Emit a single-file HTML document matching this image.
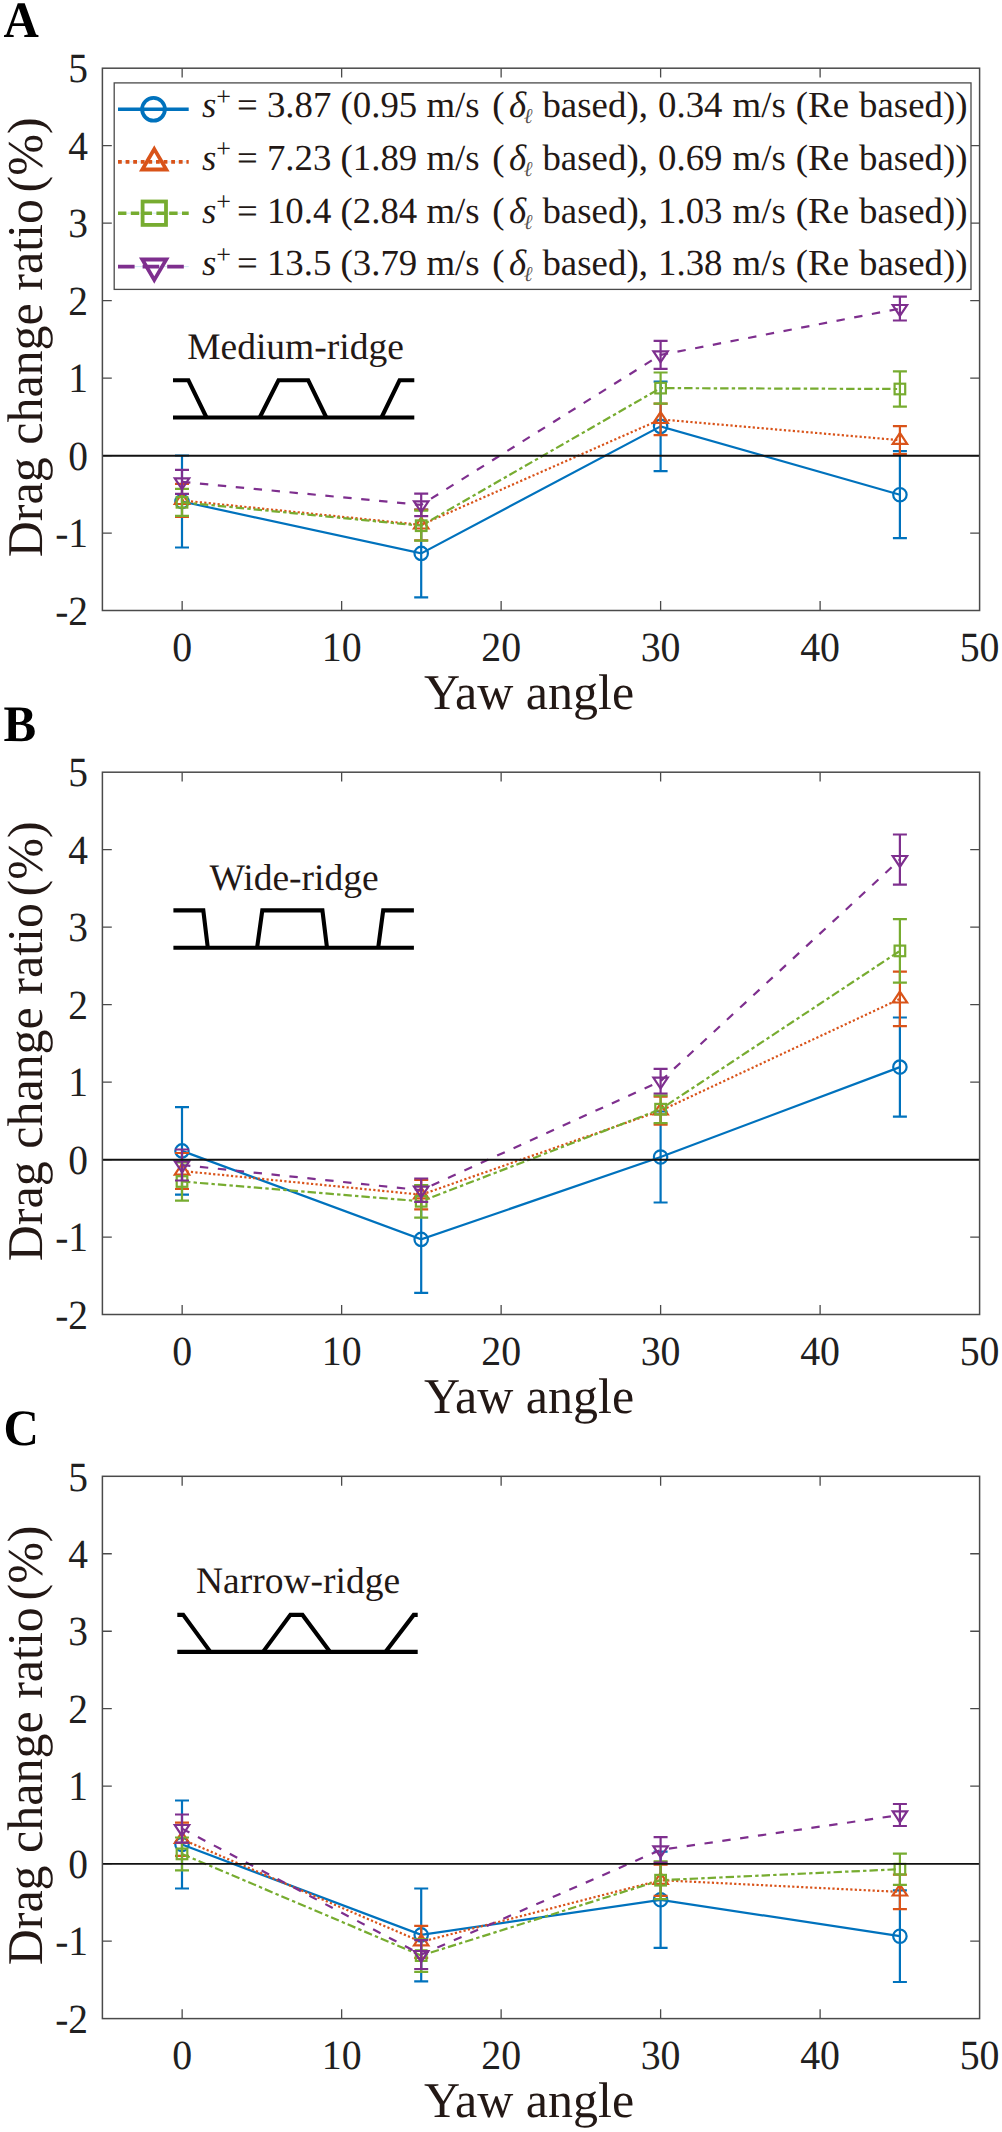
<!DOCTYPE html><html><head><meta charset="utf-8"><style>html,body{margin:0;padding:0;background:#fff;overflow:hidden;}svg{display:block;}text{font-family:"Liberation Serif",serif;text-rendering:geometricPrecision;}</style></head><body>
<svg width="1002" height="2132" viewBox="0 0 1002 2132">
<rect width="1002" height="2132" fill="#fff"/>
<text transform="translate(3.5,36.6) scale(0.96,1)" font-size="51" font-weight="bold" fill="#000">A</text>
<path d="M182.15,610.50v-9.4M182.15,68.20v9.4M341.64,610.50v-9.4M341.64,68.20v9.4M501.13,610.50v-9.4M501.13,68.20v9.4M660.62,610.50v-9.4M660.62,68.20v9.4M820.11,610.50v-9.4M820.11,68.20v9.4M102.40,145.67h9.4M979.60,145.67h-9.4M102.40,223.14h9.4M979.60,223.14h-9.4M102.40,300.61h9.4M979.60,300.61h-9.4M102.40,378.09h9.4M979.60,378.09h-9.4M102.40,455.56h9.4M979.60,455.56h-9.4M102.40,533.03h9.4M979.60,533.03h-9.4" stroke="#4a4a4a" stroke-width="1.3" fill="none"/>
<text transform="translate(88,82.40) scale(0.95,1)" font-size="41.5" text-anchor="end" fill="#202020">5</text>
<text transform="translate(88,159.87) scale(0.95,1)" font-size="41.5" text-anchor="end" fill="#202020">4</text>
<text transform="translate(88,237.34) scale(0.95,1)" font-size="41.5" text-anchor="end" fill="#202020">3</text>
<text transform="translate(88,314.81) scale(0.95,1)" font-size="41.5" text-anchor="end" fill="#202020">2</text>
<text transform="translate(88,392.29) scale(0.95,1)" font-size="41.5" text-anchor="end" fill="#202020">1</text>
<text transform="translate(88,469.76) scale(0.95,1)" font-size="41.5" text-anchor="end" fill="#202020">0</text>
<text transform="translate(88,547.23) scale(0.95,1)" font-size="41.5" text-anchor="end" fill="#202020">-1</text>
<text transform="translate(88,624.70) scale(0.95,1)" font-size="41.5" text-anchor="end" fill="#202020">-2</text>
<text transform="translate(182.15,661.10) scale(0.96,1)" font-size="41.5" text-anchor="middle" fill="#202020">0</text>
<text transform="translate(341.64,661.10) scale(0.96,1)" font-size="41.5" text-anchor="middle" fill="#202020">10</text>
<text transform="translate(501.13,661.10) scale(0.96,1)" font-size="41.5" text-anchor="middle" fill="#202020">20</text>
<text transform="translate(660.62,661.10) scale(0.96,1)" font-size="41.5" text-anchor="middle" fill="#202020">30</text>
<text transform="translate(820.11,661.10) scale(0.96,1)" font-size="41.5" text-anchor="middle" fill="#202020">40</text>
<text transform="translate(979.60,661.10) scale(0.96,1)" font-size="41.5" text-anchor="middle" fill="#202020">50</text>
<text x="529" y="709.00" font-size="50" text-anchor="middle" fill="#231815">Yaw angle</text>
<text transform="translate(42,337.35) rotate(-90)" font-size="50" text-anchor="middle" fill="#231815">Drag change ratio<tspan dx="-5.8"> (%)</tspan></text>
<text x="295.5" y="359.4" font-size="37.5" text-anchor="middle" fill="#231815">Medium-ridge</text>
<path d="M173,380.3L188.4,380.3L206.5,417.5" stroke="#000" stroke-width="4.1" fill="none" stroke-linejoin="miter" stroke-linecap="butt"/>
<path d="M259.7,417.5L278.5,380.3L308.2,380.3L326.3,417.5" stroke="#000" stroke-width="4.1" fill="none" stroke-linejoin="miter" stroke-linecap="butt"/>
<path d="M381.5,417.5L399.6,380.3L414.3,380.3" stroke="#000" stroke-width="4.1" fill="none" stroke-linejoin="miter" stroke-linecap="butt"/>
<path d="M173,417.5L414.3,417.5" stroke="#000" stroke-width="4.1" fill="none" stroke-linejoin="miter" stroke-linecap="butt"/>
<path d="M182.00,501.50L421.20,553.40L660.60,426.40L899.90,494.70" stroke="#0072BD" stroke-width="2.2" fill="none"/>
<path d="M182.00,455.50V547.50M175.00,455.50h14M175.00,547.50h14M421.20,509.50V597.30M414.20,509.50h14M414.20,597.30h14M660.60,381.70V471.10M653.60,381.70h14M653.60,471.10h14M899.90,451.20V538.20M892.90,451.20h14M892.90,538.20h14" stroke="#0072BD" stroke-width="2.2" fill="none"/>
<circle cx="182.00" cy="501.50" r="6.70" fill="none" stroke="#0072BD" stroke-width="2.2"/>
<circle cx="421.20" cy="553.40" r="6.70" fill="none" stroke="#0072BD" stroke-width="2.2"/>
<circle cx="660.60" cy="426.40" r="6.70" fill="none" stroke="#0072BD" stroke-width="2.2"/>
<circle cx="899.90" cy="494.70" r="6.70" fill="none" stroke="#0072BD" stroke-width="2.2"/>
<path d="M182.00,500.40L421.20,524.90L660.60,419.40L899.90,440.20" stroke="#D95319" stroke-width="2.2" fill="none" stroke-dasharray="2.2 2.27"/>
<path d="M182.00,483.80V517.00M175.00,483.80h14M175.00,517.00h14M421.20,509.50V540.30M414.20,509.50h14M414.20,540.30h14M660.60,403.70V435.10M653.60,403.70h14M653.60,435.10h14M899.90,426.20V454.20M892.90,426.20h14M892.90,454.20h14" stroke="#D95319" stroke-width="2.2" fill="none"/>
<path d="M182.00,493.10L189.20,504.00L174.80,504.00Z" fill="none" stroke="#D95319" stroke-width="2.2" stroke-linejoin="miter"/>
<path d="M421.20,517.60L428.40,528.50L414.00,528.50Z" fill="none" stroke="#D95319" stroke-width="2.2" stroke-linejoin="miter"/>
<path d="M660.60,412.10L667.80,423.00L653.40,423.00Z" fill="none" stroke="#D95319" stroke-width="2.2" stroke-linejoin="miter"/>
<path d="M899.90,432.90L907.10,443.80L892.70,443.80Z" fill="none" stroke="#D95319" stroke-width="2.2" stroke-linejoin="miter"/>
<path d="M182.00,502.30L421.20,525.70L660.60,388.10L899.90,389.00" stroke="#77AC30" stroke-width="2.2" fill="none" stroke-dasharray="8.4 3.2 3.4 3"/>
<path d="M182.00,488.80V515.80M175.00,488.80h14M175.00,515.80h14M421.20,510.70V540.70M414.20,510.70h14M414.20,540.70h14M660.60,372.50V403.70M653.60,372.50h14M653.60,403.70h14M899.90,371.40V406.60M892.90,371.40h14M892.90,406.60h14" stroke="#77AC30" stroke-width="2.2" fill="none"/>
<rect x="176.70" y="497.00" width="10.60" height="10.60" fill="none" stroke="#77AC30" stroke-width="2.2"/>
<rect x="415.90" y="520.40" width="10.60" height="10.60" fill="none" stroke="#77AC30" stroke-width="2.2"/>
<rect x="655.30" y="382.80" width="10.60" height="10.60" fill="none" stroke="#77AC30" stroke-width="2.2"/>
<rect x="894.60" y="383.70" width="10.60" height="10.60" fill="none" stroke="#77AC30" stroke-width="2.2"/>
<path d="M182.00,481.90L421.20,504.90L660.60,354.90L899.90,308.60" stroke="#7E2F8E" stroke-width="2.2" fill="none" stroke-dasharray="8.4 9.6"/>
<path d="M182.00,469.90V493.90M175.00,469.90h14M175.00,493.90h14M421.20,493.70V516.10M414.20,493.70h14M414.20,516.10h14M660.60,340.90V368.90M653.60,340.90h14M653.60,368.90h14M899.90,296.70V320.50M892.90,296.70h14M892.90,320.50h14" stroke="#7E2F8E" stroke-width="2.2" fill="none"/>
<path d="M182.00,489.20L189.20,478.30L174.80,478.30Z" fill="none" stroke="#7E2F8E" stroke-width="2.2" stroke-linejoin="miter"/>
<path d="M421.20,512.20L428.40,501.30L414.00,501.30Z" fill="none" stroke="#7E2F8E" stroke-width="2.2" stroke-linejoin="miter"/>
<path d="M660.60,362.20L667.80,351.30L653.40,351.30Z" fill="none" stroke="#7E2F8E" stroke-width="2.2" stroke-linejoin="miter"/>
<path d="M899.90,315.90L907.10,305.00L892.70,305.00Z" fill="none" stroke="#7E2F8E" stroke-width="2.2" stroke-linejoin="miter"/>
<path d="M102.40,455.76H979.60" stroke="#111" stroke-width="1.9"/>
<rect x="102.4" y="68.2" width="877.20" height="542.3" fill="none" stroke="#4a4a4a" stroke-width="1.5"/>
<text transform="translate(3.5,740.6) scale(0.96,1)" font-size="51" font-weight="bold" fill="#000">B</text>
<path d="M182.15,1314.50v-9.4M182.15,772.20v9.4M341.64,1314.50v-9.4M341.64,772.20v9.4M501.13,1314.50v-9.4M501.13,772.20v9.4M660.62,1314.50v-9.4M660.62,772.20v9.4M820.11,1314.50v-9.4M820.11,772.20v9.4M102.40,849.67h9.4M979.60,849.67h-9.4M102.40,927.14h9.4M979.60,927.14h-9.4M102.40,1004.61h9.4M979.60,1004.61h-9.4M102.40,1082.09h9.4M979.60,1082.09h-9.4M102.40,1159.56h9.4M979.60,1159.56h-9.4M102.40,1237.03h9.4M979.60,1237.03h-9.4" stroke="#4a4a4a" stroke-width="1.3" fill="none"/>
<text transform="translate(88,786.40) scale(0.95,1)" font-size="41.5" text-anchor="end" fill="#202020">5</text>
<text transform="translate(88,863.87) scale(0.95,1)" font-size="41.5" text-anchor="end" fill="#202020">4</text>
<text transform="translate(88,941.34) scale(0.95,1)" font-size="41.5" text-anchor="end" fill="#202020">3</text>
<text transform="translate(88,1018.81) scale(0.95,1)" font-size="41.5" text-anchor="end" fill="#202020">2</text>
<text transform="translate(88,1096.29) scale(0.95,1)" font-size="41.5" text-anchor="end" fill="#202020">1</text>
<text transform="translate(88,1173.76) scale(0.95,1)" font-size="41.5" text-anchor="end" fill="#202020">0</text>
<text transform="translate(88,1251.23) scale(0.95,1)" font-size="41.5" text-anchor="end" fill="#202020">-1</text>
<text transform="translate(88,1328.70) scale(0.95,1)" font-size="41.5" text-anchor="end" fill="#202020">-2</text>
<text transform="translate(182.15,1365.10) scale(0.96,1)" font-size="41.5" text-anchor="middle" fill="#202020">0</text>
<text transform="translate(341.64,1365.10) scale(0.96,1)" font-size="41.5" text-anchor="middle" fill="#202020">10</text>
<text transform="translate(501.13,1365.10) scale(0.96,1)" font-size="41.5" text-anchor="middle" fill="#202020">20</text>
<text transform="translate(660.62,1365.10) scale(0.96,1)" font-size="41.5" text-anchor="middle" fill="#202020">30</text>
<text transform="translate(820.11,1365.10) scale(0.96,1)" font-size="41.5" text-anchor="middle" fill="#202020">40</text>
<text transform="translate(979.60,1365.10) scale(0.96,1)" font-size="41.5" text-anchor="middle" fill="#202020">50</text>
<text x="529" y="1413.00" font-size="50" text-anchor="middle" fill="#231815">Yaw angle</text>
<text transform="translate(42,1041.35) rotate(-90)" font-size="50" text-anchor="middle" fill="#231815">Drag change ratio<tspan dx="-5.8"> (%)</tspan></text>
<text x="294" y="889.9" font-size="37.5" text-anchor="middle" fill="#231815">Wide-ridge</text>
<path d="M173.4,910.4L203.3,910.4L207.8,947.8" stroke="#000" stroke-width="4.1" fill="none" stroke-linejoin="miter" stroke-linecap="butt"/>
<path d="M257.1,947.8L262.3,910.4L322.4,910.4L327,947.8" stroke="#000" stroke-width="4.1" fill="none" stroke-linejoin="miter" stroke-linecap="butt"/>
<path d="M378.2,947.8L383.2,910.4L413.9,910.4" stroke="#000" stroke-width="4.1" fill="none" stroke-linejoin="miter" stroke-linecap="butt"/>
<path d="M173.4,947.8L413.9,947.8" stroke="#000" stroke-width="4.1" fill="none" stroke-linejoin="miter" stroke-linecap="butt"/>
<path d="M182.00,1150.90L421.20,1239.40L660.60,1157.00L899.90,1067.10" stroke="#0072BD" stroke-width="2.2" fill="none"/>
<path d="M182.00,1107.20V1194.60M175.00,1107.20h14M175.00,1194.60h14M421.20,1185.90V1292.90M414.20,1185.90h14M414.20,1292.90h14M660.60,1111.50V1202.50M653.60,1111.50h14M653.60,1202.50h14M899.90,1017.50V1116.70M892.90,1017.50h14M892.90,1116.70h14" stroke="#0072BD" stroke-width="2.2" fill="none"/>
<circle cx="182.00" cy="1150.90" r="6.70" fill="none" stroke="#0072BD" stroke-width="2.2"/>
<circle cx="421.20" cy="1239.40" r="6.70" fill="none" stroke="#0072BD" stroke-width="2.2"/>
<circle cx="660.60" cy="1157.00" r="6.70" fill="none" stroke="#0072BD" stroke-width="2.2"/>
<circle cx="899.90" cy="1067.10" r="6.70" fill="none" stroke="#0072BD" stroke-width="2.2"/>
<path d="M182.00,1171.00L421.20,1194.70L660.60,1110.70L899.90,998.90" stroke="#D95319" stroke-width="2.2" fill="none" stroke-dasharray="2.2 2.27"/>
<path d="M182.00,1153.00V1189.00M175.00,1153.00h14M175.00,1189.00h14M421.20,1180.00V1209.40M414.20,1180.00h14M414.20,1209.40h14M660.60,1096.70V1124.70M653.60,1096.70h14M653.60,1124.70h14M899.90,971.60V1026.20M892.90,971.60h14M892.90,1026.20h14" stroke="#D95319" stroke-width="2.2" fill="none"/>
<path d="M182.00,1163.70L189.20,1174.60L174.80,1174.60Z" fill="none" stroke="#D95319" stroke-width="2.2" stroke-linejoin="miter"/>
<path d="M421.20,1187.40L428.40,1198.30L414.00,1198.30Z" fill="none" stroke="#D95319" stroke-width="2.2" stroke-linejoin="miter"/>
<path d="M660.60,1103.40L667.80,1114.30L653.40,1114.30Z" fill="none" stroke="#D95319" stroke-width="2.2" stroke-linejoin="miter"/>
<path d="M899.90,991.60L907.10,1002.50L892.70,1002.50Z" fill="none" stroke="#D95319" stroke-width="2.2" stroke-linejoin="miter"/>
<path d="M182.00,1181.50L421.20,1201.30L660.60,1109.20L899.90,950.90" stroke="#77AC30" stroke-width="2.2" fill="none" stroke-dasharray="8.4 3.2 3.4 3"/>
<path d="M182.00,1162.30V1200.70M175.00,1162.30h14M175.00,1200.70h14M421.20,1185.00V1217.60M414.20,1185.00h14M414.20,1217.60h14M660.60,1095.30V1123.10M653.60,1095.30h14M653.60,1123.10h14M899.90,919.20V982.60M892.90,919.20h14M892.90,982.60h14" stroke="#77AC30" stroke-width="2.2" fill="none"/>
<rect x="176.70" y="1176.20" width="10.60" height="10.60" fill="none" stroke="#77AC30" stroke-width="2.2"/>
<rect x="415.90" y="1196.00" width="10.60" height="10.60" fill="none" stroke="#77AC30" stroke-width="2.2"/>
<rect x="655.30" y="1103.90" width="10.60" height="10.60" fill="none" stroke="#77AC30" stroke-width="2.2"/>
<rect x="894.60" y="945.60" width="10.60" height="10.60" fill="none" stroke="#77AC30" stroke-width="2.2"/>
<path d="M182.00,1165.00L421.20,1190.20L660.60,1081.20L899.90,859.60" stroke="#7E2F8E" stroke-width="2.2" fill="none" stroke-dasharray="8.4 9.6"/>
<path d="M182.00,1149.50V1180.50M175.00,1149.50h14M175.00,1180.50h14M421.20,1178.50V1201.90M414.20,1178.50h14M414.20,1201.90h14M660.60,1068.90V1093.50M653.60,1068.90h14M653.60,1093.50h14M899.90,834.50V884.70M892.90,834.50h14M892.90,884.70h14" stroke="#7E2F8E" stroke-width="2.2" fill="none"/>
<path d="M182.00,1172.30L189.20,1161.40L174.80,1161.40Z" fill="none" stroke="#7E2F8E" stroke-width="2.2" stroke-linejoin="miter"/>
<path d="M421.20,1197.50L428.40,1186.60L414.00,1186.60Z" fill="none" stroke="#7E2F8E" stroke-width="2.2" stroke-linejoin="miter"/>
<path d="M660.60,1088.50L667.80,1077.60L653.40,1077.60Z" fill="none" stroke="#7E2F8E" stroke-width="2.2" stroke-linejoin="miter"/>
<path d="M899.90,866.90L907.10,856.00L892.70,856.00Z" fill="none" stroke="#7E2F8E" stroke-width="2.2" stroke-linejoin="miter"/>
<path d="M102.40,1159.76H979.60" stroke="#111" stroke-width="1.9"/>
<rect x="102.4" y="772.2" width="877.20" height="542.3" fill="none" stroke="#4a4a4a" stroke-width="1.5"/>
<text transform="translate(3.5,1444.6) scale(0.96,1)" font-size="51" font-weight="bold" fill="#000">C</text>
<path d="M182.15,2018.60v-9.4M182.15,1476.30v9.4M341.64,2018.60v-9.4M341.64,1476.30v9.4M501.13,2018.60v-9.4M501.13,1476.30v9.4M660.62,2018.60v-9.4M660.62,1476.30v9.4M820.11,2018.60v-9.4M820.11,1476.30v9.4M102.40,1553.77h9.4M979.60,1553.77h-9.4M102.40,1631.24h9.4M979.60,1631.24h-9.4M102.40,1708.71h9.4M979.60,1708.71h-9.4M102.40,1786.19h9.4M979.60,1786.19h-9.4M102.40,1863.66h9.4M979.60,1863.66h-9.4M102.40,1941.13h9.4M979.60,1941.13h-9.4" stroke="#4a4a4a" stroke-width="1.3" fill="none"/>
<text transform="translate(88,1490.50) scale(0.95,1)" font-size="41.5" text-anchor="end" fill="#202020">5</text>
<text transform="translate(88,1567.97) scale(0.95,1)" font-size="41.5" text-anchor="end" fill="#202020">4</text>
<text transform="translate(88,1645.44) scale(0.95,1)" font-size="41.5" text-anchor="end" fill="#202020">3</text>
<text transform="translate(88,1722.91) scale(0.95,1)" font-size="41.5" text-anchor="end" fill="#202020">2</text>
<text transform="translate(88,1800.39) scale(0.95,1)" font-size="41.5" text-anchor="end" fill="#202020">1</text>
<text transform="translate(88,1877.86) scale(0.95,1)" font-size="41.5" text-anchor="end" fill="#202020">0</text>
<text transform="translate(88,1955.33) scale(0.95,1)" font-size="41.5" text-anchor="end" fill="#202020">-1</text>
<text transform="translate(88,2032.80) scale(0.95,1)" font-size="41.5" text-anchor="end" fill="#202020">-2</text>
<text transform="translate(182.15,2069.20) scale(0.96,1)" font-size="41.5" text-anchor="middle" fill="#202020">0</text>
<text transform="translate(341.64,2069.20) scale(0.96,1)" font-size="41.5" text-anchor="middle" fill="#202020">10</text>
<text transform="translate(501.13,2069.20) scale(0.96,1)" font-size="41.5" text-anchor="middle" fill="#202020">20</text>
<text transform="translate(660.62,2069.20) scale(0.96,1)" font-size="41.5" text-anchor="middle" fill="#202020">30</text>
<text transform="translate(820.11,2069.20) scale(0.96,1)" font-size="41.5" text-anchor="middle" fill="#202020">40</text>
<text transform="translate(979.60,2069.20) scale(0.96,1)" font-size="41.5" text-anchor="middle" fill="#202020">50</text>
<text x="529" y="2117.10" font-size="50" text-anchor="middle" fill="#231815">Yaw angle</text>
<text transform="translate(42,1745.45) rotate(-90)" font-size="50" text-anchor="middle" fill="#231815">Drag change ratio<tspan dx="-5.8"> (%)</tspan></text>
<text x="298" y="1592.7" font-size="37.5" text-anchor="middle" fill="#231815">Narrow-ridge</text>
<path d="M177.3,1614.9L183.2,1614.9L210.4,1651.9" stroke="#000" stroke-width="4.1" fill="none" stroke-linejoin="miter" stroke-linecap="butt"/>
<path d="M263,1651.9L290.4,1614.9L302.5,1614.9L330.1,1651.9" stroke="#000" stroke-width="4.1" fill="none" stroke-linejoin="miter" stroke-linecap="butt"/>
<path d="M385.4,1651.9L413.7,1614.9L417.7,1614.9" stroke="#000" stroke-width="4.1" fill="none" stroke-linejoin="miter" stroke-linecap="butt"/>
<path d="M177.3,1651.9L417.7,1651.9" stroke="#000" stroke-width="4.1" fill="none" stroke-linejoin="miter" stroke-linecap="butt"/>
<path d="M182.00,1844.50L421.20,1934.90L660.60,1899.80L899.90,1936.20" stroke="#0072BD" stroke-width="2.2" fill="none"/>
<path d="M182.00,1800.50V1888.50M175.00,1800.50h14M175.00,1888.50h14M421.20,1888.50V1981.30M414.20,1888.50h14M414.20,1981.30h14M660.60,1851.70V1947.90M653.60,1851.70h14M653.60,1947.90h14M899.90,1890.40V1982.00M892.90,1890.40h14M892.90,1982.00h14" stroke="#0072BD" stroke-width="2.2" fill="none"/>
<circle cx="182.00" cy="1844.50" r="6.70" fill="none" stroke="#0072BD" stroke-width="2.2"/>
<circle cx="421.20" cy="1934.90" r="6.70" fill="none" stroke="#0072BD" stroke-width="2.2"/>
<circle cx="660.60" cy="1899.80" r="6.70" fill="none" stroke="#0072BD" stroke-width="2.2"/>
<circle cx="899.90" cy="1936.20" r="6.70" fill="none" stroke="#0072BD" stroke-width="2.2"/>
<path d="M182.00,1839.30L421.20,1941.80L660.60,1880.20L899.90,1891.90" stroke="#D95319" stroke-width="2.2" fill="none" stroke-dasharray="2.2 2.27"/>
<path d="M182.00,1822.70V1855.90M175.00,1822.70h14M175.00,1855.90h14M421.20,1925.80V1957.80M414.20,1925.80h14M414.20,1957.80h14M660.60,1864.60V1895.80M653.60,1864.60h14M653.60,1895.80h14M899.90,1874.70V1909.10M892.90,1874.70h14M892.90,1909.10h14" stroke="#D95319" stroke-width="2.2" fill="none"/>
<path d="M182.00,1832.00L189.20,1842.90L174.80,1842.90Z" fill="none" stroke="#D95319" stroke-width="2.2" stroke-linejoin="miter"/>
<path d="M421.20,1934.50L428.40,1945.40L414.00,1945.40Z" fill="none" stroke="#D95319" stroke-width="2.2" stroke-linejoin="miter"/>
<path d="M660.60,1872.90L667.80,1883.80L653.40,1883.80Z" fill="none" stroke="#D95319" stroke-width="2.2" stroke-linejoin="miter"/>
<path d="M899.90,1884.60L907.10,1895.50L892.70,1895.50Z" fill="none" stroke="#D95319" stroke-width="2.2" stroke-linejoin="miter"/>
<path d="M182.00,1853.90L421.20,1955.60L660.60,1880.20L899.90,1869.20" stroke="#77AC30" stroke-width="2.2" fill="none" stroke-dasharray="8.4 3.2 3.4 3"/>
<path d="M182.00,1837.50V1870.30M175.00,1837.50h14M175.00,1870.30h14M421.20,1939.40V1971.80M414.20,1939.40h14M414.20,1971.80h14M660.60,1861.30V1899.10M653.60,1861.30h14M653.60,1899.10h14M899.90,1853.60V1884.80M892.90,1853.60h14M892.90,1884.80h14" stroke="#77AC30" stroke-width="2.2" fill="none"/>
<rect x="176.70" y="1848.60" width="10.60" height="10.60" fill="none" stroke="#77AC30" stroke-width="2.2"/>
<rect x="415.90" y="1950.30" width="10.60" height="10.60" fill="none" stroke="#77AC30" stroke-width="2.2"/>
<rect x="655.30" y="1874.90" width="10.60" height="10.60" fill="none" stroke="#77AC30" stroke-width="2.2"/>
<rect x="894.60" y="1863.90" width="10.60" height="10.60" fill="none" stroke="#77AC30" stroke-width="2.2"/>
<path d="M182.00,1828.60L421.20,1954.60L660.60,1849.90L899.90,1815.00" stroke="#7E2F8E" stroke-width="2.2" fill="none" stroke-dasharray="8.4 9.6"/>
<path d="M182.00,1814.50V1842.70M175.00,1814.50h14M175.00,1842.70h14M421.20,1940.20V1969.00M414.20,1940.20h14M414.20,1969.00h14M660.60,1837.20V1862.60M653.60,1837.20h14M653.60,1862.60h14M899.90,1804.00V1826.00M892.90,1804.00h14M892.90,1826.00h14" stroke="#7E2F8E" stroke-width="2.2" fill="none"/>
<path d="M182.00,1835.90L189.20,1825.00L174.80,1825.00Z" fill="none" stroke="#7E2F8E" stroke-width="2.2" stroke-linejoin="miter"/>
<path d="M421.20,1961.90L428.40,1951.00L414.00,1951.00Z" fill="none" stroke="#7E2F8E" stroke-width="2.2" stroke-linejoin="miter"/>
<path d="M660.60,1857.20L667.80,1846.30L653.40,1846.30Z" fill="none" stroke="#7E2F8E" stroke-width="2.2" stroke-linejoin="miter"/>
<path d="M899.90,1822.30L907.10,1811.40L892.70,1811.40Z" fill="none" stroke="#7E2F8E" stroke-width="2.2" stroke-linejoin="miter"/>
<path d="M102.40,1863.86H979.60" stroke="#111" stroke-width="1.9"/>
<rect x="102.4" y="1476.3" width="877.20" height="542.3" fill="none" stroke="#4a4a4a" stroke-width="1.5"/>
<rect x="114.2" y="82.9" width="856.8" height="206.5" fill="#fff" stroke="#4a4a4a" stroke-width="1.3"/>
<path d="M118,109.30H188.7" stroke="#0072BD" stroke-width="3.6"/>
<circle cx="153.5" cy="109.30" r="11.4" fill="none" stroke="#0072BD" stroke-width="3.8"/>
<text x="202" y="117.30" font-size="36.8" fill="#231815"><tspan font-style="italic">s</tspan><tspan font-size="26" dy="-12.8">+</tspan><tspan dy="12.8" dx="-3.2"> = 3.87 (0.95 m/s</tspan><tspan dx="3.5"> (</tspan><tspan font-style="italic" dx="4.4">δ</tspan><tspan font-style="italic" font-size="21" dy="6" dx="-2.3" fill-opacity="0.75">ℓ</tspan><tspan dy="-6" style="word-spacing:0.7px;letter-spacing:0.05px"> based), 0.34 m/s (Re based))</tspan></text>
<path d="M118,161.90H188.7" stroke="#cfe6f6" stroke-width="1"/>
<path d="M118,161.90H188.7" stroke="#D95319" stroke-width="3.6" stroke-dasharray="3.8 3.8"/>
<path d="M154.3,149.10L166.3,169.50L142.3,169.50Z" fill="none" stroke="#D95319" stroke-width="3.8"/>
<text x="202" y="170.00" font-size="36.8" fill="#231815"><tspan font-style="italic">s</tspan><tspan font-size="26" dy="-12.8">+</tspan><tspan dy="12.8" dx="-3.2"> = 7.23 (1.89 m/s</tspan><tspan dx="3.5"> (</tspan><tspan font-style="italic" dx="4.4">δ</tspan><tspan font-style="italic" font-size="21" dy="6" dx="-2.3" fill-opacity="0.75">ℓ</tspan><tspan dy="-6" style="word-spacing:0.7px;letter-spacing:0.05px"> based), 0.69 m/s (Re based))</tspan></text>
<path d="M118,213.20H188.7" stroke="#cfe6f6" stroke-width="1"/>
<path d="M118,213.20H188.7" stroke="#77AC30" stroke-width="3.6" stroke-dasharray="8.4 4.4"/>
<rect x="142.60" y="201.50" width="23.4" height="23.4" fill="none" stroke="#77AC30" stroke-width="3.8"/>
<text x="202" y="222.70" font-size="36.8" fill="#231815"><tspan font-style="italic">s</tspan><tspan font-size="26" dy="-12.8">+</tspan><tspan dy="12.8" dx="-3.2"> = 10.4 (2.84 m/s</tspan><tspan dx="3.5"> (</tspan><tspan font-style="italic" dx="4.4">δ</tspan><tspan font-style="italic" font-size="21" dy="6" dx="-2.3" fill-opacity="0.75">ℓ</tspan><tspan dy="-6" style="word-spacing:0.7px;letter-spacing:0.05px"> based), 1.03 m/s (Re based))</tspan></text>
<path d="M118,266.60H188.7" stroke="#cfe6f6" stroke-width="1"/>
<path d="M118,266.60H188.7" stroke="#7E2F8E" stroke-width="3.6" stroke-dasharray="16.6 8"/>
<path d="M154.3,279.90L166.3,259.50L142.3,259.50Z" fill="none" stroke="#7E2F8E" stroke-width="3.8"/>
<text x="202" y="275.40" font-size="36.8" fill="#231815"><tspan font-style="italic">s</tspan><tspan font-size="26" dy="-12.8">+</tspan><tspan dy="12.8" dx="-3.2"> = 13.5 (3.79 m/s</tspan><tspan dx="3.5"> (</tspan><tspan font-style="italic" dx="4.4">δ</tspan><tspan font-style="italic" font-size="21" dy="6" dx="-2.3" fill-opacity="0.75">ℓ</tspan><tspan dy="-6" style="word-spacing:0.7px;letter-spacing:0.05px"> based), 1.38 m/s (Re based))</tspan></text>
</svg></body></html>
